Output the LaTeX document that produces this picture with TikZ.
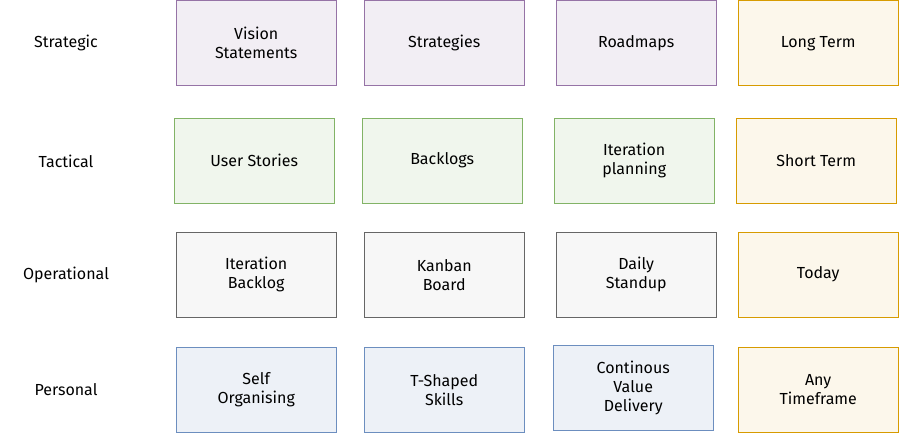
\documentclass[tikz,border=0pt]{standalone}
\usepackage{fontspec}
\setmainfont{Fira Sans}
\begin{document}
\begin{tikzpicture}[x=1pt,y=-1pt,
  box/.style={draw, minimum width=160pt, minimum height=85pt, align=center, font=\fontsize{16}{19}\selectfont, anchor=north west, inner sep=2pt},
  lab/.style={font=\fontsize{16}{19}\selectfont}]
\definecolor{cP}{HTML}{9673A6}\definecolor{cG}{HTML}{82B366}\definecolor{cK}{HTML}{666666}
\definecolor{cB}{HTML}{6C8EBF}\definecolor{cO}{HTML}{D79B00}
\useasboundingbox (0,0) rectangle (899,433);
\tikzset{
 sp/.style={box, draw=cP, fill=cP!12},
 sg/.style={box, draw=cG, fill=cG!12},
 sk/.style={box, draw=cK, fill=cK!5},
 sb/.style={box, draw=cB, fill=cB!12},
 so/.style={box, draw=cO, fill=cO!8}}
\node[lab] (l1) at (66,43) {Strategic};
\node[lab] (l2) at (66,161) {Tactical};
\node[lab] (l3) at (66,275) {Operational};
\node[lab] (l4) at (66,390) {Personal};
\node[sp] (a1) at (176,0.5) {Vision\\Statements};
\node[sp] (a2) at (364,0.5) {Strategies};
\node[sp] (a3) at (556,0.5) {Roadmaps};
\node[so] (a4) at (738,0.5) {Long Term};
\node[sg] (b1) at (174,118) {User Stories};
\node[sg] (b2) at (362,118) {Backlogs};
\node[sg] (b3) at (554,118) {Iteration\\planning};
\node[so] (b4) at (736,118) {Short Term};
\node[sk] (c1) at (176,232) {Iteration\\Backlog};
\node[sk] (c2) at (364,232) {Kanban\\Board};
\node[sk] (c3) at (556,232) {Daily\\Standup};
\node[so] (c4) at (738,232) {Today};
\node[sb] (d1) at (176,347) {Self\\Organising};
\node[sb] (d2) at (364,347) {T-Shaped\\Skills};
\node[sb] (d3) at (553,345) {Continous\\Value\\Delivery};
\node[so] (d4) at (738,347) {Any\\Timeframe};
\end{tikzpicture}
\end{document}
